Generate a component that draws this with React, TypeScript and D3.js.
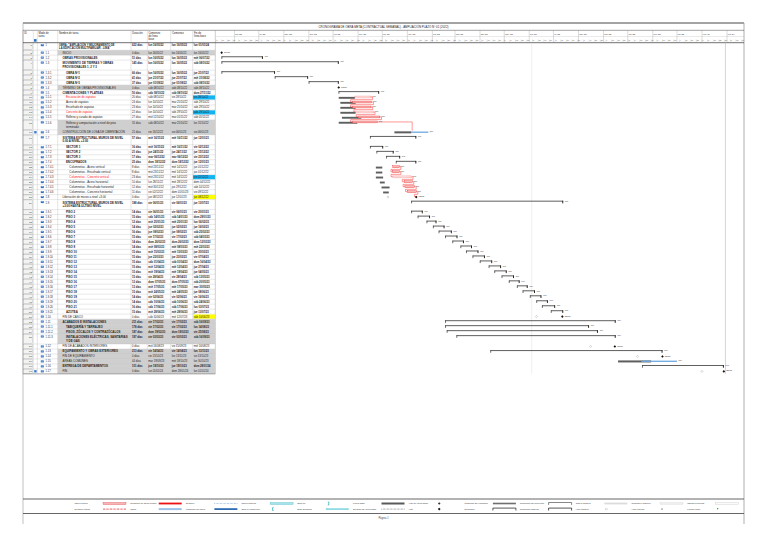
import React from 'react';
import * as d3 from 'd3';

// ---------------- DATA ----------------
const chartTitle = 'CRONOGRAMA DE OBRA META (CONTRACTUAL SEMANAL) - AMPLIACIÓN PLAZO N° 01 (2022)';
const headerLabels = ['ID', '', 'Modo de tarea', 'Nombre de tarea', 'Duración', 'Comienzo de línea base', 'Comienzo', 'Fin de línea base'];

// [wbs, name, kind, start, finish, baselineStart, baselineFinish]
// kind: P project, S summary, C critical task, D critical (inactive split), M milestone, B manual task
const tasks = [
  ['1', 'OBRA: "AMPLIACIÓN Y MEJORAMIENTO DE LA EDIFICACIÓN MULTIFAMILIAR - LIMA"', 'P', '2022-05-16', '2024-01-28', '2022-05-16', '2024-01-01'],
  ['1.1', 'INICIO', 'M', '2022-05-16', '2022-05-16'],
  ['1.2', 'OBRAS PROVISIONALES', 'S', '2022-05-16', '2022-07-06'],
  ['1.3', 'MOVIMIENTO DE TIERRAS Y OBRAS PROVISIONALES 1, 2 Y 3', 'S', '2022-05-16', '2022-10-08'],
  ['1.3.1', 'OBRA N°1', 'S', '2022-05-16', '2022-07-21'],
  ['1.3.2', 'OBRA N°2', 'S', '2022-07-21', '2022-08-31'],
  ['1.3.3', 'OBRA N°3', 'S', '2022-09-01', '2022-10-08'],
  ['1.4', 'TÉRMINO DE OBRAS PROVISIONALES', 'M', '2022-10-08', '2022-10-08'],
  ['1.5', 'CIMENTACIONES Y PLATEAS', 'S', '2022-10-08', '2022-11-27'],
  ['1.5.1', 'Excavación de zapatas', 'D', '2022-10-28', '2022-11-17', '2022-10-08', '2022-10-28'],
  ['1.5.2', 'Acero de zapatas', 'C', '2022-10-25', '2022-11-18', '2022-10-10', '2022-10-29'],
  ['1.5.3', 'Encofrado de zapatas', 'C', '2022-10-25', '2022-11-17', '2022-10-10', '2022-10-29'],
  ['1.5.4', 'Concreto de zapatas', 'D', '2022-10-29', '2022-11-20', '2022-10-10', '2022-10-29'],
  ['1.5.5', 'Relleno y curado de zapatas', 'C', '2022-11-01', '2022-11-28', '2022-10-12', '2022-11-05'],
  ['1.5.6', 'Relleno y compactación a nivel de piso terminado', 'C', '2022-10-25', '2022-11-25', '2022-10-08', '2022-10-31'],
  ['1.6', 'CONSTRUCCIÓN DE LOSA DE CIMENTACIÓN', 'B', '2023-01-06', '2023-01-27', '2022-12-16', '2023-01-06'],
  ['1.7', 'SISTEMA ESTRUCTURAL MUROS DE NIVEL 0.00 A NIVEL +3.00', 'S', '2022-11-16', '2023-01-12'],
  ['1.7.1', 'SECTOR 1', 'S', '2022-11-16', '2022-12-02'],
  ['1.7.2', 'SECTOR 2', 'S', '2022-11-24', '2022-12-15'],
  ['1.7.3', 'SECTOR 3', 'S', '2022-12-06', '2022-12-23'],
  ['1.7.4', 'ENCOFRADOS', 'S', '2022-12-18', '2023-01-12'],
  ['1.7.4.1', 'Columnetas - Acero vertical', 'C', '2022-12-14', '2022-12-22', '2022-11-23', '2022-12-01'],
  ['1.7.4.2', 'Columnetas - Encofrado vertical', 'C', '2022-12-14', '2022-12-22', '2022-11-23', '2022-12-01'],
  ['1.7.4.3', 'Columnetas - Concreto vertical', 'D', '2022-12-14', '2023-01-06', '2022-11-23', '2022-12-02'],
  ['1.7.4.4', 'Columnetas - Acero horizontal', 'C', '2022-12-28', '2023-01-07', '2022-11-28', '2022-12-04'],
  ['1.7.4.5', 'Columnetas - Encofrado horizontal', 'C', '2022-12-29', '2023-01-10', '2022-11-30', '2022-12-10'],
  ['1.7.4.6', 'Columnetas - Concreto horizontal', 'C', '2023-01-01', '2023-01-12', '2022-12-02', '2022-12-09'],
  ['1.8', 'Liberación de muros a nivel +3.00', 'M', '2023-01-12', '2023-01-12', '2022-12-08', '2022-12-08'],
  ['1.9', 'SISTEMA ESTRUCTURAL MUROS DE NIVEL +3.00 HASTA ÚLTIMO NIVEL', 'S', '2023-01-06', '2023-07-13'],
  ['1.9.1', 'PISO 2', 'S', '2023-01-06', '2023-01-20'],
  ['1.9.2', 'PISO 3', 'S', '2023-01-14', '2023-01-29'],
  ['1.9.3', 'PISO 4', 'S', '2023-01-25', '2023-02-06'],
  ['1.9.4', 'PISO 5', 'S', '2023-02-02', '2023-02-16'],
  ['1.9.5', 'PISO 6', 'S', '2023-02-09', '2023-02-25'],
  ['1.9.6', 'PISO 7', 'S', '2023-02-17', '2023-03-04'],
  ['1.9.7', 'PISO 8', 'S', '2023-02-26', '2023-03-12'],
  ['1.9.8', 'PISO 9', 'S', '2023-03-08', '2023-03-22'],
  ['1.9.9', 'PISO 10', 'S', '2023-03-15', '2023-03-30'],
  ['1.9.10', 'PISO 11', 'S', '2023-03-23', '2023-04-07'],
  ['1.9.11', 'PISO 12', 'S', '2023-04-01', '2023-04-16'],
  ['1.9.12', 'PISO 13', 'S', '2023-04-12', '2023-04-27'],
  ['1.9.13', 'PISO 14', 'S', '2023-04-19', '2023-05-04'],
  ['1.9.14', 'PISO 15', 'S', '2023-04-28', '2023-05-13'],
  ['1.9.15', 'PISO 16', 'S', '2023-05-07', '2023-05-20'],
  ['1.9.16', 'PISO 17', 'S', '2023-05-17', '2023-05-30'],
  ['1.9.17', 'PISO 18', 'S', '2023-05-24', '2023-06-08'],
  ['1.9.18', 'PISO 19', 'S', '2023-06-02', '2023-06-16'],
  ['1.9.19', 'PISO 20', 'S', '2023-06-10', '2023-06-24'],
  ['1.9.20', 'PISO 21', 'S', '2023-06-17', '2023-07-03'],
  ['1.9.21', 'AZOTEA', 'S', '2023-06-28', '2023-07-13'],
  ['1.10', 'FIN DE CASCO', 'M', '2023-07-12', '2023-07-12', '2023-06-10', '2023-06-10'],
  ['1.11', 'ACABADOS E INSTALACIONES', 'S', '2023-02-17', '2023-09-16'],
  ['1.11.1', 'TABIQUERÍA Y TARRAJEO', 'S', '2023-02-17', '2023-08-14'],
  ['1.11.2', 'PISOS, ZÓCALOS Y CONTRAZÓCALOS', 'S', '2023-02-19', '2023-08-25'],
  ['1.11.3', 'INSTALACIONES ELÉCTRICAS, SANITARIAS Y DE GAS', 'S', '2023-03-03', '2023-09-16'],
  ['1.12', 'FIN DE ACABADOS INTERIORES', 'M', '2023-09-15', '2023-09-15', '2023-08-16', '2023-08-16'],
  ['1.13', 'EQUIPAMIENTO Y OBRAS EXTERIORES', 'S', '2023-04-14', '2023-11-13'],
  ['1.14', 'FIN DE EQUIPAMIENTO', 'M', '2023-11-13', '2023-11-13', '2023-10-13', '2023-10-13'],
  ['1.15', 'ÁREAS COMUNES', 'B', '2023-10-18', '2023-12-01', '2023-09-19', '2023-10-30'],
  ['1.16', 'ENTREGA DE DEPARTAMENTOS', 'S', '2023-10-19', '2024-01-28'],
  ['1.17', 'FIN', 'M', '2024-01-28', '2024-01-28', '2024-01-01', '2024-01-01'],
];

// critical links [from row, to row] (1-based)
const criticalLinks = [[10, 11], [11, 12], [12, 13], [13, 14], [14, 15], [15, 16], [22, 23], [23, 24], [24, 25], [25, 26], [26, 27], [27, 28]];

const timeDomain = ['2022-05-09', '2024-02-22'];
const statusDate = '2023-06-04';
const finishLineDate = '2024-01-30';

const legendCols = [
  [['Tarea crítica', 'critBar'], ['División crítica', 'critSplit']],
  [['Progreso de tarea crítica', 'critProg'], ['Tarea', 'bar']],
  [['División', 'split'], ['Progreso de tarea', 'prog']],
  [['Tarea manual', 'manual'], ['Sólo el comienzo', 'startOnly']],
  [['Sólo fin', 'endOnly'], ['Sólo duración', 'durOnly']],
  [['Línea base', 'baseline'], ['División de línea base', 'baseSplit']],
  [['Hito de línea base', 'baseMs'], ['Hito', 'ms']],
  [['Progreso del resumen', 'sumProg'], ['Resumen', 'summary']],
  [['Resumen del proyecto', 'projSummary'], ['Resumen manual', 'manSummary']],
  [['Tarea inactiva', 'inTask'], ['Hito inactivo', 'inMs']],
  [['Resumen inactivo', 'inSum'], ['Hito externo', 'extMs']],
  [['Tareas externas', 'external'], ['Fecha límite', 'deadline']],
];
const pageLabel = 'Página 1';

// ---------------- STYLE LISTS ----------------
const rowUnits = { 1: 1.5, 4: 2, 15: 2, 17: 2, 29: 2, 55: 2 };
const grayRows = [2, 8, 15, 16, 52, 53, 54, 55, 57, 58, 59, 60, 61];
const redNameRows = [10, 13, 24];
const yellowRows = [28, 51];
const cyanRows = [10, 13, 24];
const infoRows = [16, 61];

const FONT = 'Liberation Sans, Arial, sans-serif';
const dias = ['dom', 'lun', 'mar', 'mié', 'jue', 'vie', 'sáb'];
const meses = ['ene', 'feb', 'mar', 'abr', 'may', 'jun', 'jul', 'ago', 'sep', 'oct', 'nov', 'dic'];

const parse = d3.timeParse('%Y-%m-%d');
const fmtDM = d3.timeFormat('%d/%m');
const fmtFull = (d) => `${dias[d.getDay()]} ${d3.timeFormat('%d/%m/%y')(d)}`;

function wrap(text, maxChars) {
  const words = text.split(' ');
  const lines = [];
  let cur = '';
  words.forEach((w) => {
    if ((cur + ' ' + w).trim().length > maxChars && cur) {
      lines.push(cur);
      cur = w;
    } else cur = (cur + ' ' + w).trim();
  });
  if (cur) lines.push(cur);
  return lines;
}

const cols = [23, 33.3, 37.3, 57.7, 131, 147.3, 170.7, 192.7, 215.3];
const G0 = 215.3, G1 = 744;
const TOP = 23, TITLE_B = 30.3, HEAD_B = 42.7;
const U = 4.98;

function Legend({ x0, y, sym }) {
  const w = 23;
  const c = y;
  switch (sym) {
    case 'critBar': return <rect x={x0} y={c - 1.1} width={w} height={2.2} fill="#f4b6b6" stroke="#e03030" strokeWidth={0.3} />;
    case 'critSplit': return <line x1={x0} x2={x0 + w} y1={c} y2={c} stroke="#e03030" strokeWidth={1.2} strokeDasharray="0.6,0.8" />;
    case 'critProg': return <rect x={x0} y={c - 0.9} width={w} height={1.8} fill="#ee1111" />;
    case 'bar': return <rect x={x0} y={c - 1} width={w} height={2} fill="#9cc2ea" />;
    case 'split': return <line x1={x0} x2={x0 + w} y1={c} y2={c} stroke="#8db4e2" strokeWidth={1.2} strokeDasharray="0.6,0.8" />;
    case 'prog': return <rect x={x0} y={c - 0.9} width={w} height={1.8} fill="#2e6db4" />;
    case 'manual': return <rect x={x0} y={c - 1} width={w} height={2} fill="#a6e3ea" stroke="#36b0bd" strokeWidth={0.3} />;
    case 'startOnly': return <path d={`M${x0 + 1.5},${c - 1.5} h-1 v3 h1`} fill="none" stroke="#36b0bd" strokeWidth={0.8} />;
    case 'endOnly': return <path d={`M${x0},${c - 1.5} h1 v3 h-1`} fill="none" stroke="#36b0bd" strokeWidth={0.8} />;
    case 'durOnly': return <rect x={x0} y={c - 0.9} width={w} height={1.8} fill="#8fdbe3" />;
    case 'baseline': return <rect x={x0} y={c - 1} width={w} height={2} fill="#5a5a5a" />;
    case 'baseSplit': return <line x1={x0} x2={x0 + w} y1={c} y2={c} stroke="#777" strokeWidth={1} strokeDasharray="0.6,0.8" />;
    case 'baseMs': return <path d={`M${x0},${c - 1.3} l1.3,1.3 l-1.3,1.3 l-1.3,-1.3z`} fill="#333" />;
    case 'ms': return <path d={`M${x0},${c - 1.4} l1.4,1.4 l-1.4,1.4 l-1.4,-1.4z`} fill="#111" />;
    case 'sumProg': return <rect x={x0} y={c - 0.8} width={w} height={1.6} fill="#6f6f6f" />;
    case 'summary':
    case 'manSummary':
    case 'projSummary': {
      const col = sym === 'projSummary' ? '#555' : '#111';
      return <path d={`M${x0},${c + 1.4} V${c - 1} H${x0 + w} V${c + 1.4}`} fill="none" stroke={col} strokeWidth={0.7} />;
    }
    case 'inTask': return <rect x={x0} y={c - 0.9} width={w} height={1.8} fill="#dcdcdc" />;
    case 'inMs': return <path d={`M${x0},${c - 1.2} l1.2,1.2 l-1.2,1.2 l-1.2,-1.2z`} fill="none" stroke="#888" strokeWidth={0.3} />;
    case 'inSum': return <rect x={x0} y={c - 0.8} width={w} height={1.6} fill="#eeeeee" stroke="#d0d0d0" strokeWidth={0.3} />;
    case 'extMs': return <path d={`M${x0},${c - 1.2} l1.2,1.2 l-1.2,1.2 l-1.2,-1.2z`} fill="#aaa" />;
    case 'external': return <rect x={x0} y={c - 1} width={w} height={2} fill="#fafafa" stroke="#bdbdbd" strokeWidth={0.3} />;
    case 'deadline': return <path d={`M${x0 - 0.8},${c - 1.2} h1.6 l-0.8,2.2z`} fill="#3aa636" />;
    default: return null;
  }
}

export default function App() {
  const x = d3.scaleTime().domain(timeDomain.map(parse)).range([G0 + 0.7, G1]);

  // row layout
  let acc = 0;
  const rows = tasks.map((t, i) => {
    const id = i + 1;
    const units = rowUnits[id] || 1;
    const top = HEAD_B + acc * U;
    acc += units;
    const [wbs, name, kind, s, f, bs, bf] = t;
    const start = parse(s), finish = parse(f);
    const bStart = parse(bs || s), bFinish = parse(bf || f);
    return { id, wbs, name, kind, start, finish, bStart, bFinish, top, h: units * U, c: top + 2.5, hasBl: !!bs };
  });
  const tableBottom = HEAD_B + acc * U;

  const months = d3.timeMonth.range(x.domain()[0], x.domain()[1]);
  const weeks = d3.timeMonday.range(x.domain()[0], x.domain()[1]);

  const fs = 2.9;
  const lineCol = '#b4b4b4';

  const bars = [];
  rows.forEach((r) => {
    const c = r.c;
    const x1 = x(r.start), x2 = x(r.finish);
    if (r.kind === 'S') {
      bars.push(<path key={'s' + r.id} d={`M${x1},${c - 0.9} H${x2}`} stroke="#4d4d4d" strokeWidth={0.9} />);
      bars.push(<path key={'sl' + r.id} d={`M${x1 + 0.2},${c - 1.3} v2.6`} stroke="#111" strokeWidth={0.6} />);
      bars.push(<path key={'sr' + r.id} d={`M${x2 - 0.4},${c - 1.3} v2.6`} stroke="#111" strokeWidth={0.9} />);
      bars.push(<text key={'t' + r.id} x={x2 + 1.8} y={c - 0.2} fontSize={2.3} fontFamily={FONT} fill="#222">0%</text>);
    } else if (r.kind === 'C' || r.kind === 'D') {
      bars.push(<rect key={'b' + r.id} x={x(r.bStart)} y={c - 0.6} width={x(r.bFinish) - x(r.bStart)} height={1.9} fill="#5e5e5e" />);
      bars.push(<rect key={'a' + r.id} x={x1} y={c - 1.4} width={x2 - x1} height={1.9} fill={r.kind === 'D' ? '#fde2e2' : '#f6b8b8'} stroke="#ee2020" strokeWidth={0.35} strokeDasharray={r.kind === 'D' ? '0.6,0.5' : null} />);
      bars.push(<text key={'t' + r.id} x={x2 + 1.5} y={c - 0.4} fontSize={2.3} fontFamily={FONT} fill="#222">0%</text>);
    } else if (r.kind === 'B') {
      bars.push(<rect key={'b' + r.id} x={x(r.bStart)} y={c - 1} width={x(r.bFinish) - x(r.bStart)} height={2} fill="#5e5e5e" />);
      bars.push(<rect key={'a' + r.id} x={x1} y={c - 0.8} width={x2 - x1} height={1.3} fill="#6fa8e0" />);
      bars.push(<text key={'t' + r.id} x={x2 + 1.5} y={c - 0.4} fontSize={2.3} fontFamily={FONT} fill="#222">0%</text>);
    } else if (r.kind === 'M') {
      if (r.hasBl) {
        const bx = x(r.bStart);
        bars.push(<path key={'bm' + r.id} d={`M${bx},${c - 1.1} l1.1,1.1 l-1.1,1.1 l-1.1,-1.1z`} fill="none" stroke="#777" strokeWidth={0.3} />);
      }
      bars.push(<path key={'m' + r.id} d={`M${x1},${c - 1.3} l1.3,1.3 l-1.3,1.3 l-1.3,-1.3z`} fill="#111" />);
      bars.push(<text key={'t' + r.id} x={x1 + 2.4} y={c + 0.1} fontSize={2.3} fontFamily={FONT} fill="#222">{fmtDM(r.start)}</text>);
    }
  });

  // critical links
  const links = criticalLinks.map(([a, b], i) => {
    const p = rows[a - 1], s = rows[b - 1];
    const pf = x(p.finish), ss = x(s.start);
    const py = p.c - 0.45, sy = s.c - 0.45;
    let d;
    if (ss >= pf + 1.5) {
      d = `M${pf},${py} H${ss + 0.8} V${s.c - 1.6}`;
    } else {
      const mid = p.top + p.h - 0.3;
      d = `M${pf},${py} H${pf + 1.6} V${mid} H${ss - 1.8} V${sy} H${ss}`;
    }
    return <path key={'l' + i} d={d} fill="none" stroke="#ff1a1a" strokeWidth={0.45} />;
  });

  const headerWrapChars = [4, 4, 7, 30, 9, 10, 10, 10];

  return (
    <svg width={768} height={543} style={{ position: 'fixed', left: 0, top: 0, background: '#fff' }} fontFamily={FONT}>
      <rect x={0} y={0} width={768} height={543} fill="#fff" />
      {/* page frame */}
      <line x1={23} x2={744} y1={TOP} y2={TOP} stroke="#333" strokeWidth={0.9} />
      <line x1={23} x2={23} y1={TOP} y2={524} stroke="#999" strokeWidth={0.6} />
      <line x1={744} x2={744} y1={TOP} y2={524} stroke="#999" strokeWidth={0.8} />
      <text x={383.5} y={28.2} fontSize={2.9} textAnchor="middle" fill="#222">{chartTitle}</text>
      <line x1={23} x2={744} y1={TITLE_B} y2={TITLE_B} stroke="#444" strokeWidth={0.5} />

      {/* table header */}
      {headerLabels.map((h, i) => {
        const lines = wrap(h, headerWrapChars[i]);
        return (
          <g key={'h' + i}>
            {lines.map((ln, j) => (
              <text key={j} x={cols[i] + 1.2} y={TITLE_B + 3.6 + j * 3.1} fontSize={2.6} fill="#222">{ln}</text>
            ))}
          </g>
        );
      })}
      <rect x={34} y={HEAD_B - 3.6} width={2.6} height={2.6} fill="#2f6fc0" />
      {cols.map((cx, i) => (
        <line key={'c' + i} x1={cx} x2={cx} y1={TITLE_B} y2={tableBottom} stroke={i === 0 || i === cols.length - 1 ? '#777' : lineCol} strokeWidth={0.35} />
      ))}
      <line x1={23} x2={G1} y1={HEAD_B} y2={HEAD_B} stroke="#333" strokeWidth={0.7} />

      {/* timescale */}
      <line x1={G0} x2={G1} y1={36.5} y2={36.5} stroke="#aaa" strokeWidth={0.25} />
      {months.map((m, i) => (
        <g key={'m' + i}>
          <line x1={x(m)} x2={x(m)} y1={TITLE_B} y2={HEAD_B} stroke="#888" strokeWidth={0.3} />
          <text x={x(m) + 0.8} y={34.8} fontSize={2.2} fill="#333">{`${meses[m.getMonth()]} '${String(m.getFullYear()).slice(2)}`}</text>
        </g>
      ))}
      {weeks.map((w, i) => (
        <g key={'w' + i}>
          <line x1={x(w)} x2={x(w)} y1={39.5} y2={HEAD_B} stroke="#999" strokeWidth={0.25} />
          <text x={x(w) + 0.4} y={41.4} fontSize={1.8} fill="#555">{w.getDate()}</text>
        </g>
      ))}

      {/* table rows */}
      {rows.map((r) => {
        const gray = grayRows.includes(r.id);
        const bold = r.kind === 'S' || r.kind === 'P';
        const depth = r.wbs.split('.').length;
        const indent = cols[3] + 1.4 + (depth - 1) * 3.4;
        const nameLines = r.h > U * 1.2 ? wrap(r.name, bold ? 36 : 42) : [r.name];
        const nfs = r.id === 1 ? 2.6 : fs;
        const ty = r.h > U * 1.2 ? r.top + (r.h - (nameLines.length - 1) * 3.3) / 2 + 1 : r.top + r.h / 2 + 1;
        const dur = d3.timeDay.count(r.start, r.finish);
        const durTxt = `${dur} ${dur === 1 ? 'día' : 'días'}`;
        const yellow = yellowRows.includes(r.id), cyan = cyanRows.includes(r.id);
        return (
          <g key={'r' + r.id}>
            {gray && <rect x={cols[3]} y={r.top} width={cols[8] - cols[3]} height={r.h} fill="#cfcfcf" />}
            {(yellow || cyan) && <rect x={cols[7] + 0.3} y={r.top + 0.4} width={cols[8] - cols[7] - 0.6} height={r.h - 0.8} fill={yellow ? '#ffff00' : '#14b4f0'} />}
            <rect x={cols[0] + 0.5} y={r.top + 0.4} width={cols[1] - cols[0] - 1} height={r.h - 0.8} fill="#f3f3f3" stroke="#8a8a8a" strokeWidth={0.25} />
            <line x1={cols[0]} x2={cols[8]} y1={r.top + r.h} y2={r.top + r.h} stroke={lineCol} strokeWidth={0.3} />
            <text x={cols[1] - 1.5} y={ty} fontSize={2.5} textAnchor="end" fill="#333">{r.id}</text>
            {infoRows.includes(r.id) && <rect x={34.2} y={r.top + 1.2} width={2.4} height={2.4} fill="#3a7bd5" />}
            <rect x={40.8} y={r.top + 1.4} width={3} height={2.1} fill="#2f6fc0" />
            <rect x={41.4} y={r.top + 1.9} width={1.8} height={0.5} fill="#dce8f8" />
            <text x={45.6} y={ty} fontSize={2.6} fill="#222">{r.wbs}</text>
            {nameLines.map((ln, j) => (
              <text key={j} x={indent} y={ty + j * 3.3} fontSize={nfs} fontWeight={bold ? 'bold' : 'normal'} fill={redNameRows.includes(r.id) ? '#ff2020' : '#222'}>{ln}</text>
            ))}
            <text x={cols[4] + 1} y={ty} fontSize={2.7} fontWeight={bold ? 'bold' : 'normal'} fill="#222">{durTxt}</text>
            <text x={cols[5] + 1} y={ty} fontSize={2.7} fontWeight={bold ? 'bold' : 'normal'} fill="#222">{fmtFull(r.bStart)}</text>
            <text x={cols[6] + 1} y={ty} fontSize={2.7} fontWeight={bold ? 'bold' : 'normal'} fill="#222">{fmtFull(r.start)}</text>
            <text x={cols[7] + 1} y={ty} fontSize={2.7} fontWeight={bold ? 'bold' : 'normal'} fill="#222">{fmtFull(r.bFinish)}</text>
          </g>
        );
      })}
      <line x1={23} x2={cols[8]} y1={tableBottom} y2={tableBottom} stroke="#777" strokeWidth={0.5} />

      {/* gantt verticals */}
      <line x1={x(parse(statusDate))} x2={x(parse(statusDate))} y1={HEAD_B} y2={tableBottom} stroke="#dadada" strokeWidth={0.4} />
      <line x1={x(parse(finishLineDate))} x2={x(parse(finishLineDate))} y1={HEAD_B} y2={tableBottom} stroke="#b8b8b8" strokeWidth={0.6} />

      {links}
      {bars}

      {/* legend */}
      <line x1={23} x2={744} y1={499} y2={499} stroke="#555" strokeWidth={0.9} />
      <line x1={23} x2={744} y1={513.5} y2={513.5} stroke="#555" strokeWidth={0.9} />
      {legendCols.map((col, i) => {
        const sx = 103 + i * 55.7;
        return col.map(([label, sym], j) => {
          const y = 503.5 + j * 5.6;
          return (
            <g key={`lg${i}-${j}`}>
              <text x={sx - 28.5} y={y + 0.9} fontSize={2.4} fill="#333">{label}</text>
              <Legend x0={sym === 'ms' || sym === 'baseMs' || sym === 'inMs' || sym === 'extMs' || sym === 'deadline' || sym === 'startOnly' || sym === 'endOnly' ? sx + 2 : sx} y={y} sym={sym} />
            </g>
          );
        });
      })}
      <text x={383.5} y={518.5} fontSize={2.6} textAnchor="middle" fill="#444">{pageLabel}</text>
    </svg>
  );
}
